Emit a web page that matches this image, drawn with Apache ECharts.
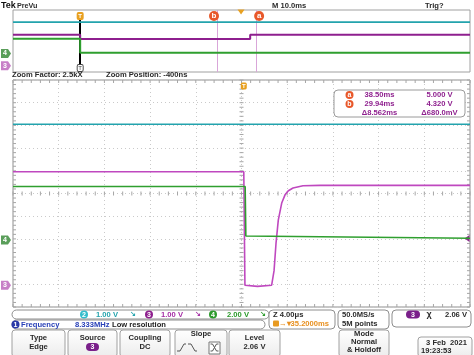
<!DOCTYPE html>
<html><head><meta charset="utf-8">
<script src="https://cdn.jsdelivr.net/npm/echarts@6/dist/echarts.min.js"></script>
<style>html,body{margin:0;padding:0;background:#fff}#c{width:474px;height:355px}</style>
</head><body><div id="c"></div>
<script>
// ---------------- DATA ----------------
// Zoomed (main) window: time in µs relative to trigger, levels in volts
const mainCh2Time = [-20.2, 19.8];
const mainCh2Volt = [5.05, 5.05];
const mainCh3Time = [-20.2, 0.0, 0.1, 1.2, 2.44, 2.65, 2.82, 3.02, 3.32, 3.61, 3.90, 4.31, 5.18, 6.67, 19.8];
const mainCh3Volt = [5.0, 5.0, 0.0, -0.05, 0.0, 0.64, 1.84, 2.87, 3.62, 3.98, 4.16, 4.28, 4.38, 4.40, 4.40];
const mainCh4Time = [-20.2, 0.12, 0.18, 19.8];
const mainCh4Volt = [4.72, 4.72, 0.36, 0.16];
// Overview (record) window: time in ms relative to trigger
const ovCh2Time = [-14.7, 85.3];
const ovCh2Volt = [5.05, 5.05];
const ovCh3Time = [-14.7, 0, 0, 37.2, 37.2, 85.3];
const ovCh3Volt = [5.0, 5.0, 4.32, 4.32, 5.0, 5.0];
const ovCh4Time = [-14.7, 0, 0, 85.3];
const ovCh4Volt = [4.75, 4.75, 0.2, 0.2];
// Cursors
const cursorNames = ['a', 'b'];
const cursorTimes = [38.50, 29.94];   // ms
const cursorVolts = [5.000, 4.320];   // V
const cursorDeltas = ['\u03948.562ms', '\u0394680.0mV'];
const triggerLevel = 2.06;            // V on ch3
const horizPosition = 35.2;           // ms
const channelIds = ['2', '3', '4'];
const channelScales = ['1.00 V', '1.00 V', '2.00 V'];

// ---------------- STYLE ----------------
const CYAN = '#23a3ad', PURPLE = '#bf48bf', PURPLE_D = '#8e1f8e', GREEN = '#2f9f2f';
const FONT = 'Liberation Sans';
const FS = 7.6;
const zip = (a, b) => a.map((v, i) => [v, b[i]]);

const chart = echarts.init(document.getElementById('c'), null, {renderer: 'canvas'});

const minorPos = [];
for (let i = -25; i <= 25; i++) minorPos.push([i / 5]);

function T(x, y, text, o) {
  const st = Object.assign({text, fontFamily: FONT, fontSize: FS, fontWeight: 'bold', fill: '#2a2a2a',
    textVerticalAlign: 'middle', verticalAlign: 'middle', textAlign: 'left'}, o || {});
  st.align = st.textAlign;
  return {type: 'text', x, y, style: st, z: 100};
}
function badge(cx, cy, r, fill, txt) {
  return [{type: 'circle', shape: {cx, cy, r}, style: {fill}, z: 100},
          T(cx, cy + 0.5, txt, {textAlign: 'center', fill: '#fff', fontSize: 7})];
}
function box(x, y, w, h, r, fill, stroke) {
  return {type: 'rect', shape: {x, y, width: w, height: h, r}, style: {fill: fill || '#fff', stroke: stroke || '#8e8e8e', lineWidth: 1}, z: 90};
}
function btnFill() {
  return new echarts.graphic.LinearGradient(0, 0, 0, 1, [{offset: 0, color: '#ffffff'}, {offset: 1, color: '#ececec'}]);
}
function line(points, stroke, w) {
  return {type: 'polyline', shape: {points}, style: {stroke, fill: null, lineWidth: w || 1}, z: 101};
}

const g = [];
// header
g.push(T(1, 6, 'Tek', {fontSize: 9, fill: '#111'}));
g.push(T(17, 6, 'PreVu', {fontSize: 7.2}));
g.push(T(272, 6, 'M 10.0ms'));
g.push(T(425, 6, 'Trig?'));
g.push(T(12, 75, 'Zoom Factor: 2.5kX'));
g.push(T(106, 75, 'Zoom Position: -400ns'));

// cursor readout box
g.push(box(334, 90, 131, 27, 4, '#fff', '#9a9a9a'));
[0, 1].forEach(i => {
  g.push(...badge(349.5, 95 + 9 * i, 4, '#e8582a', cursorNames[i]));
  g.push(T(379.5, 95 + 9 * i, cursorTimes[i].toFixed(2) + 'ms', {textAlign: 'center', fill: PURPLE_D}));
  g.push(T(439.5, 95 + 9 * i, cursorVolts[i].toFixed(3) + ' V', {textAlign: 'center', fill: PURPLE_D}));
});
g.push(T(379.5, 113, cursorDeltas[0], {textAlign: 'center', fill: PURPLE_D}));
g.push(T(439.5, 113, cursorDeltas[1], {textAlign: 'center', fill: PURPLE_D}));

// channel readout row
g.push(box(12, 310, 257, 9, 4.5));
const chCol = [['#35bccb', '#23a3ad', 84, 96, 133], ['#8e1f8e', '#a52ea5', 149, 161, 198], ['#2c9a2c', '#2a9a2a', 213, 227, 263]];
chCol.forEach((c, i) => {
  g.push(...badge(c[2], 314.5, 4, c[0], channelIds[i]));
  g.push(T(c[3], 314.5, channelScales[i], {fill: c[1]}));
  g.push(T(c[4], 314.5, '\u2198', {fill: c[1], fontSize: 7, textAlign: 'center'}));
});
// measurement row
g.push(box(12, 320, 253, 9, 4.5));
g.push(...badge(15.5, 324.5, 4, '#2a3aa8', '1'));
g.push(T(21, 324.5, 'Frequency', {fill: '#2840b8'}));
g.push(T(75, 324.5, '8.333MHz', {fill: '#2840b8'}));
g.push(T(112, 324.5, 'Low resolution', {fill: '#222'}));

// horizontal boxes
g.push(box(269, 310, 66, 19, 4));
g.push(T(273, 314.5, 'Z 4.00\u03bcs'));
g.push({type: 'rect', shape: {x: 273, y: 320.5, width: 6, height: 6, r: 1}, style: {fill: '#e89a20'}, z: 100});
g.push(T(279, 323.7, '\u2192\u25BE' + horizPosition.toFixed(4) + 'ms', {fill: '#e89020'}));
g.push(box(338, 310, 51, 19, 4));
g.push(T(342, 314.5, '50.0MS/s'));
g.push(T(342, 323.5, '5M points'));
g.push(box(392, 310, 79, 17, 4));
g.push({type: 'rect', shape: {x: 406, y: 310.5, width: 14, height: 8, r: 4}, style: {fill: '#7a1f8a'}, z: 100});
g.push(T(413, 314.8, '3', {fill: '#fff', fontSize: 7, textAlign: 'center'}));
g.push(T(429, 314.5, '\u03c7', {textAlign: 'center', fontSize: 9}));
g.push(T(467, 314.5, triggerLevel.toFixed(2) + ' V', {textAlign: 'right'}));

// buttons
const btns = [
  [12, 53, ['Type', 'Edge']],
  [68, 49, ['Source', '']],
  [120, 50, ['Coupling', 'DC']],
  [229, 51, ['Level', triggerLevel.toFixed(2) + ' V']],
];
btns.forEach(b => {
  g.push(box(b[0], 330, b[1], 27, 3, btnFill(), '#a0a0a0'));
  g.push(T(b[0] + b[1] / 2, 338, b[2][0], {textAlign: 'center'}));
  if (b[2][1]) g.push(T(b[0] + b[1] / 2, 346.5, b[2][1], {textAlign: 'center'}));
});
g.push({type: 'rect', shape: {x: 86, y: 343, width: 13, height: 8, r: 4}, style: {fill: '#7a1f8a'}, z: 100});
g.push(T(92.5, 347.3, '3', {fill: '#fff', fontSize: 7, textAlign: 'center'}));
// slope button
g.push(box(175, 330, 52, 27, 3, btnFill(), '#a0a0a0'));
g.push(T(201, 334, 'Slope', {textAlign: 'center'}));
g.push(line([[177, 351], [180, 351], [184, 344], [186, 344]], '#555'));
g.push(line([[188, 344], [191, 344], [195, 351], [197, 351]], '#555'));
g.push({type: 'rect', shape: {x: 209, y: 342, width: 11, height: 12}, style: {fill: '#fff', stroke: '#777', lineWidth: 1}, z: 100});
g.push(line([[210.5, 351], [212.5, 351], [216.5, 344], [218.5, 344]], '#555'));
g.push(line([[210.5, 344], [212.5, 344], [216.5, 351], [218.5, 351]], '#555'));
// mode button
g.push(box(339, 330, 50, 27, 3, btnFill(), '#a0a0a0'));
g.push(T(364, 333.5, 'Mode', {textAlign: 'center'}));
g.push(T(364, 341.7, 'Normal', {textAlign: 'center'}));
g.push(T(364, 350, '& Holdoff', {textAlign: 'center'}));
// date
g.push(box(418, 337, 54, 20, 3, btnFill(), '#a0a0a0'));
g.push(T(467, 343, '3 Feb  2021', {textAlign: 'right'}));
g.push(T(421, 351, '19:23:53'));

const tickSeries = {
  type: 'custom', xAxisIndex: 0, yAxisIndex: 0, silent: true, clip: false, z: 1,
  data: minorPos,
  renderItem(params, api) {
    const v = api.value(0);
    const c = api.coord([v, 0]), c2 = api.coord([0, v]);
    const b = api.coord([v, -5]), t = api.coord([v, 5]), l = api.coord([-5, v]), r = api.coord([5, v]);
    const st = {stroke: '#a6a6a6', lineWidth: 1};
    const L = (x1, y1, x2, y2) => ({type: 'line', shape: {x1, y1, x2, y2}, style: st});
    return {type: 'group', children: [
      L(c[0], c[1] - 2, c[0], c[1] + 2),
      L(c2[0] - 2, c2[1], c2[0] + 2, c2[1]),
      L(b[0], b[1], b[0], b[1] - 3),
      L(t[0], t[1], t[0], t[1] + 3),
      L(l[0], l[1], l[0] + 3, l[1]),
      L(r[0], r[1], r[0] - 3, r[1])
    ]};
  }
};

const tag = 'path://M0,0 L7,0 L10,4.5 L7,9 L0,9 Z';
const groundMark = (x, id, color) => ({coord: [x, 0], symbol: tag, symbolSize: [10, 9], symbolOffset: [-7, 0],
  itemStyle: {color}, label: {show: true, formatter: id, color: '#fff', fontSize: 7, fontWeight: 'bold', offset: [-1, 0]}});

const lineS = (xi, yi, data, color, w, extra) => Object.assign({
  type: 'line', xAxisIndex: xi, yAxisIndex: yi, data, showSymbol: false, symbol: 'none', silent: true,
  lineStyle: {color, width: w}, itemStyle: {color}, z: 5, animation: false
}, extra || {});

const split = {show: true, lineStyle: {color: '#cacaca', type: [1, 3], width: 1}};
const hid = {show: false};

const option = {
  animation: false,
  backgroundColor: '#fff',
  grid: [
    {left: 13, right: 4, top: 80, height: 227, show: true, borderColor: '#8e8e8e', borderWidth: 1, backgroundColor: '#fff'},
    {left: 13, right: 4, top: 10, height: 62, show: true, borderColor: '#a0a0a0', borderWidth: 1, backgroundColor: '#fff'}
  ],
  xAxis: [
    {gridIndex: 0, type: 'value', min: -5, max: 5, interval: 1, axisLine: hid, axisTick: hid, axisLabel: hid, splitLine: split},
    {gridIndex: 0, type: 'value', min: -20.2, max: 19.8, show: false},
    {gridIndex: 1, type: 'value', min: -14.7, max: 85.3, show: false}
  ],
  yAxis: [
    {gridIndex: 0, type: 'value', min: -5, max: 5, interval: 1, axisLine: hid, axisTick: hid, axisLabel: hid, splitLine: split},
    {gridIndex: 0, type: 'value', min: -3, max: 7, show: false},
    {gridIndex: 0, type: 'value', min: -0.96, max: 9.04, show: false},
    {gridIndex: 0, type: 'value', min: -5.9, max: 14.1, show: false},
    {gridIndex: 1, type: 'value', min: -3, max: 7, show: false},
    {gridIndex: 1, type: 'value', min: -1, max: 9, show: false},
    {gridIndex: 1, type: 'value', min: -6, max: 14, show: false}
  ],
  graphic: {elements: g},
  series: [
    tickSeries,
    lineS(1, 1, zip(mainCh2Time, mainCh2Volt), CYAN, 1.6, {
      markPoint: {silent: true, data: [{coord: [0, 7], symbol: 'roundRect', symbolSize: [6, 7], symbolOffset: [0, 6],
        itemStyle: {color: '#e8a020'}, label: {show: true, formatter: 'T', color: '#fff', fontSize: 6, fontWeight: 'bold'}}]}
    }),
    lineS(1, 2, zip(mainCh3Time, mainCh3Volt), PURPLE, 1.6, {
      markPoint: {silent: true, data: [
        groundMark(-20.2, '3', '#c77fc7'),
        {coord: [19.8, triggerLevel], symbol: 'path://M6,0 L0,4 L6,8 Z', symbolSize: [5, 7], symbolOffset: [-3, 0], itemStyle: {color: '#8a2a8a'}, label: {show: false}}
      ]}
    }),
    lineS(1, 3, zip(mainCh4Time, mainCh4Volt), GREEN, 1.6, {
      markPoint: {silent: true, data: [groundMark(-20.2, '4', '#5a9e5a')]}
    }),
    // overview
    lineS(2, 4, zip(ovCh2Time, ovCh2Volt), CYAN, 1.6, {
      markLine: {silent: true, symbol: ['none', 'none'], label: {show: false}, animation: false, data: [
        {xAxis: cursorTimes[1], lineStyle: {color: '#d9a6d9', width: 1, type: 'solid'}},
        {xAxis: cursorTimes[0], lineStyle: {color: '#d9a6d9', width: 1, type: 'solid'}}
      ]}
    }),
    lineS(2, 5, zip(ovCh3Time, ovCh3Volt), PURPLE_D, 2, {
      markPoint: {silent: true, data: [groundMark(-14.7, '3', '#c77fc7')]}
    }),
    lineS(2, 6, zip(ovCh4Time, ovCh4Volt), GREEN, 2, {
      markPoint: {silent: true, data: [groundMark(-14.7, '4', '#5a9e5a')]}
    }),
    {
      type: 'line', xAxisIndex: 2, yAxisIndex: 4, data: [], silent: true, z: 8,
      markLine: {silent: true, symbol: ['none', 'none'], label: {show: false}, animation: false,
        data: [[{coord: [0, 6.2]}, {coord: [0, -2.4]}]], lineStyle: {color: '#000', width: 2, type: 'solid'}},
      markPoint: {silent: true, data: [
        {coord: [0, 7], symbol: 'roundRect', symbolSize: [7, 8], symbolOffset: [0, 6], itemStyle: {color: '#e8a020'},
          label: {show: true, formatter: 'T', color: '#fff', fontSize: 6, fontWeight: 'bold'}},
        {coord: [0, -3], symbol: 'roundRect', symbolSize: [6, 7], symbolOffset: [0, -4], itemStyle: {color: '#fff', borderColor: '#444', borderWidth: 1},
          label: {show: true, formatter: 'T', color: '#444', fontSize: 6}},
        {coord: [horizPosition, 7], symbol: 'path://M0,0 L8,0 L4,5 Z', symbolSize: [7, 5], symbolOffset: [0, 2], itemStyle: {color: '#e8a020'}, label: {show: false}},
        {coord: [cursorTimes[1], 7], symbol: 'circle', symbolSize: 10, symbolOffset: [-3, 6], itemStyle: {color: '#e8582a'},
          label: {show: true, formatter: cursorNames[1], color: '#fff', fontSize: 8, fontWeight: 'bold'}},
        {coord: [cursorTimes[0], 7], symbol: 'circle', symbolSize: 10, symbolOffset: [3, 6], itemStyle: {color: '#e8582a'},
          label: {show: true, formatter: cursorNames[0], color: '#fff', fontSize: 8, fontWeight: 'bold'}}
      ]}
    }
  ]
};
chart.setOption(option);
</script></body></html>
